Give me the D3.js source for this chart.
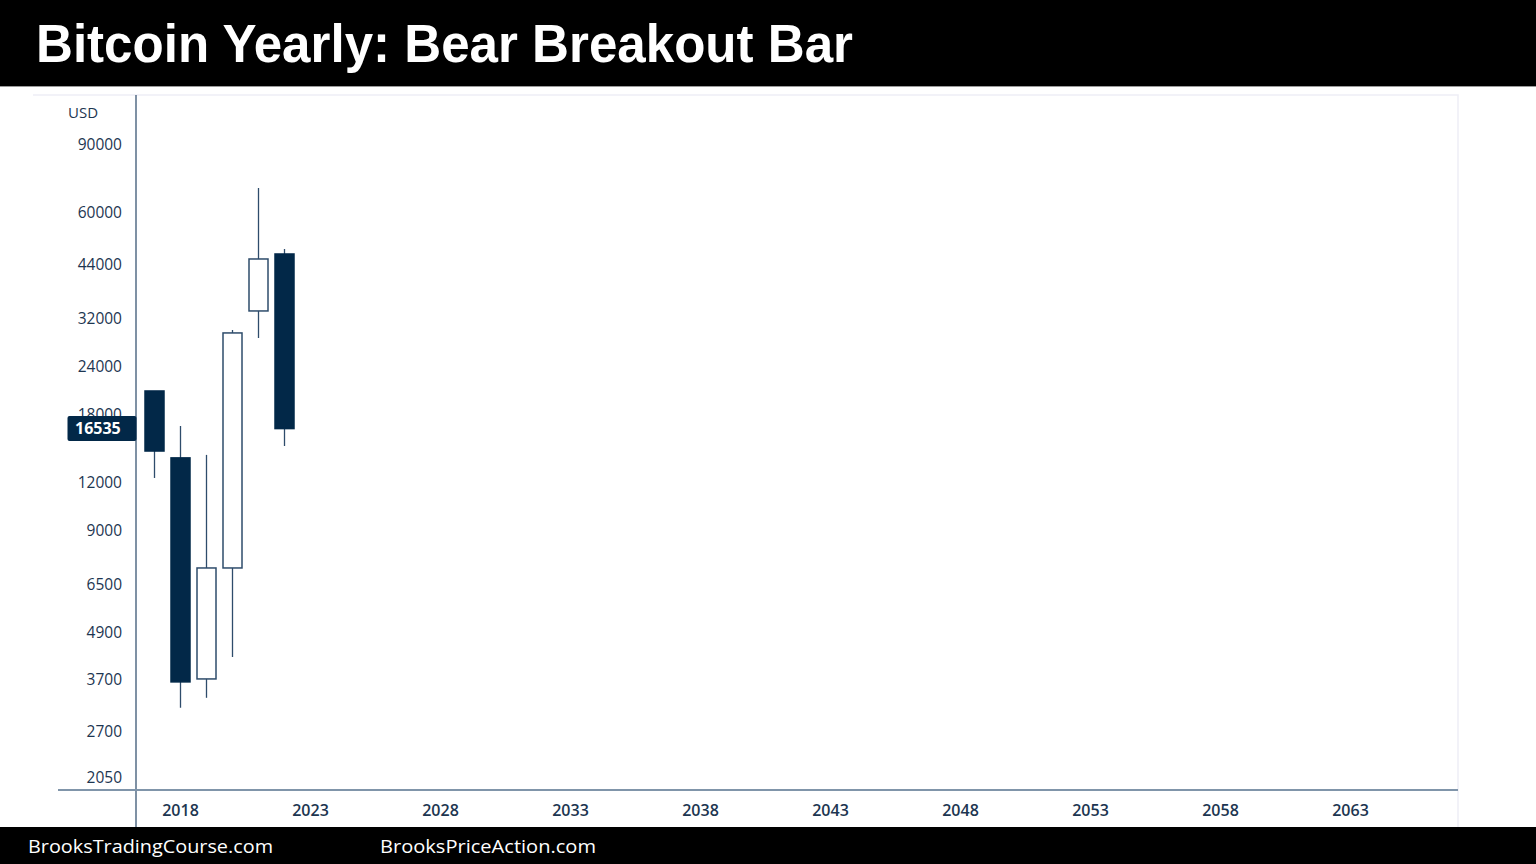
<!DOCTYPE html>
<html>
<head>
<meta charset="utf-8">
<script src="https://cdn.jsdelivr.net/npm/d3@7"></script>
<style>
  html, body { margin: 0; padding: 0; background: #ffffff; }
  svg { display: block; }
</style>
</head>
<body>
<svg id="chart" width="1536" height="864"></svg>
<script>
// ---- Data ----
const years  = [2017, 2018, 2019, 2020, 2021, 2022];
const opens  = [20700, 13880, 3705, 7190, 33390, 46930];
const highs  = [20700, 16800, 14130, 29800, 69600, 48350];
const lows   = [12310, 3118, 3310, 4225, 28410, 14900];
const closes = [14460, 3640, 7190, 29280, 45550, 16535];

const yTicks = [2050, 2700, 3700, 4900, 6500, 9000, 12000, 18000, 24000, 32000, 44000, 60000, 90000];
const xTicks = [2018, 2023, 2028, 2033, 2038, 2043, 2048, 2053, 2058, 2063];
const lastPrice = 16535;
const titleText = "Bitcoin Yearly: Bear Breakout Bar";
const unitLabel = "USD";
const footerLeft = "BrooksTradingCourse.com";
const footerRight = "BrooksPriceAction.com";

// ---- Layout ----
const W = 1536, H = 864;
const plotL = 136, plotR = 1458, plotT = 95, plotB = 790;
const svg = d3.select("#chart");

const navy = "#022848";
const wickCol = "#2e4c6b";
const labelCol = "#1d3651";

// scales
const y = d3.scaleLog().domain([2050, 90000]).range([778, 145]);
const x = d3.scaleLinear().domain([2018, 2023]).range([180.5, 310.5]);

// background
svg.append("rect").attr("width", W).attr("height", H).attr("fill", "#fff");

// faint plot border
svg.append("path")
  .attr("d", `M33,${plotT}H${plotR}V827`)
  .attr("fill", "none").attr("stroke", "#eeeef6").attr("stroke-width", 1.5);

// axes lines
svg.append("line").attr("x1", plotL).attr("x2", plotL).attr("y1", plotT).attr("y2", 827)
  .attr("stroke", "#3a5673").attr("stroke-width", 1.3);
svg.append("line").attr("x1", 58).attr("x2", plotR).attr("y1", plotB).attr("y2", plotB)
  .attr("stroke", "#8095aa").attr("stroke-width", 2);

// y tick labels
svg.append("g").selectAll("text").data(yTicks).join("text")
  .attr("x", 122).attr("y", d => y(d))
  .attr("dy", "0.35em")
  .attr("text-anchor", "end")
  .attr("font-family", "'Open Sans', sans-serif")
  .attr("font-size", 15.5)
  .attr("fill", labelCol)
  .text(d => d);

svg.append("text").attr("x", 68).attr("y", 113).attr("dy", "0.35em")
  .attr("font-family", "'Open Sans', sans-serif").attr("font-size", 15)
  .attr("fill", labelCol).text(unitLabel);

// x tick labels
svg.append("g").selectAll("text").data(xTicks).join("text")
  .attr("x", d => x(d)).attr("y", 810).attr("dy", "0.35em")
  .attr("text-anchor", "middle")
  .attr("font-family", "'Open Sans', sans-serif")
  .attr("font-size", 16).attr("font-weight", 600)
  .attr("fill", labelCol)
  .text(d => d);

// candles
const bw = 20;
const candles = years.map((yr, i) => ({ yr, o: opens[i], h: highs[i], l: lows[i], c: closes[i] }));
const g = svg.append("g");
g.selectAll("line.wick").data(candles).join("line")
  .attr("class", "wick")
  .attr("x1", d => x(d.yr)).attr("x2", d => x(d.yr))
  .attr("y1", d => y(d.h)).attr("y2", d => y(d.l))
  .attr("stroke", wickCol).attr("stroke-width", 1.3);
g.selectAll("rect.body").data(candles).join("rect")
  .attr("class", "body")
  .attr("x", d => x(d.yr) - bw / 2 + 0.5)
  .attr("width", bw - 1)
  .attr("y", d => y(Math.max(d.o, d.c)))
  .attr("height", d => Math.abs(y(d.o) - y(d.c)))
  .attr("fill", d => d.c >= d.o ? "#ffffff" : navy)
  .attr("stroke", d => d.c >= d.o ? wickCol : navy)
  .attr("stroke-width", 1.5);

// last price label
const ly = y(lastPrice);
svg.append("rect").attr("x", 67.5).attr("y", ly - 12.5).attr("width", 69).attr("height", 25)
  .attr("rx", 2).attr("fill", navy);
svg.append("text").attr("x", 75).attr("y", ly).attr("dy", "0.36em")
  .attr("font-family", "'Open Sans', sans-serif").attr("font-size", 16).attr("font-weight", 700)
  .attr("fill", "#fff").text(lastPrice);

// title banner
svg.append("rect").attr("x", 0).attr("y", 0).attr("width", W).attr("height", 86).attr("fill", "#000");
svg.append("line").attr("x1", 0).attr("x2", W).attr("y1", 86.5).attr("y2", 86.5).attr("stroke", "#9a9a9a").attr("stroke-width", 1);
svg.append("text").attr("x", 36).attr("y", 62)
  .attr("font-family", "'Liberation Sans', Arial, sans-serif")
  .attr("font-size", 53).attr("font-weight", 700).attr("fill", "#fff")
  .attr("textLength", 817).attr("lengthAdjust", "spacingAndGlyphs")
  .text(titleText);

// footer
svg.append("rect").attr("x", 0).attr("y", 827).attr("width", W).attr("height", H - 827).attr("fill", "#000");
svg.append("text").attr("x", 28).attr("y", 846).attr("dy", "0.35em")
  .attr("font-family", "'Open Sans', sans-serif").attr("font-size", 19).attr("fill", "#fff")
  .attr("textLength", 245).attr("lengthAdjust", "spacingAndGlyphs")
  .text(footerLeft);
svg.append("text").attr("x", 380).attr("y", 846).attr("dy", "0.35em")
  .attr("font-family", "'Open Sans', sans-serif").attr("font-size", 19).attr("fill", "#fff")
  .attr("textLength", 216).attr("lengthAdjust", "spacingAndGlyphs")
  .text(footerRight);
</script>
</body>
</html>
